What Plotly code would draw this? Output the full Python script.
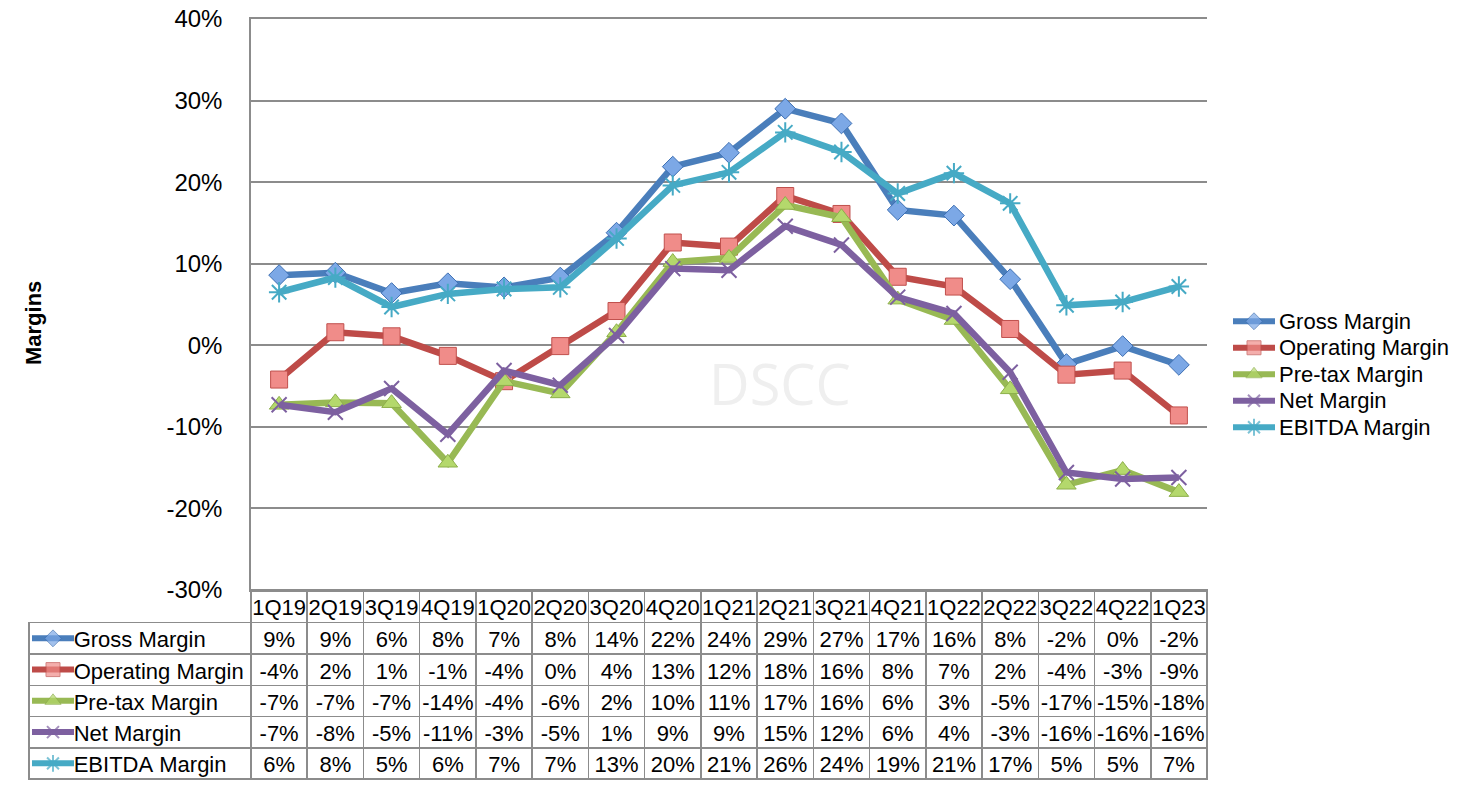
import plotly.graph_objects as go

# Quarterly margins (percent)
quarters = ["1Q19", "2Q19", "3Q19", "4Q19", "1Q20", "2Q20", "3Q20", "4Q20", "1Q21",
            "2Q21", "3Q21", "4Q21", "1Q22", "2Q22", "3Q22", "4Q22", "1Q23"]

gross_margin = [8.6, 8.9, 6.4, 7.6, 7.1, 8.3, 13.8, 21.9, 23.6,
                29.0, 27.2, 16.6, 15.9, 8.1, -2.3, -0.1, -2.4]
operating_margin = [-4.2, 1.6, 1.1, -1.3, -4.4, -0.1, 4.2, 12.6, 12.1,
                    18.3, 16.1, 8.4, 7.2, 2.0, -3.6, -3.1, -8.6]
pretax_margin = [-7.3, -7.0, -7.1, -14.4, -4.4, -5.9, 1.6, 10.2, 10.7,
                 17.2, 15.7, 5.6, 3.1, -5.4, -17.1, -15.3, -18.0]
net_margin = [-7.3, -8.2, -5.3, -10.9, -3.1, -4.9, 1.2, 9.4, 9.2,
              14.6, 12.3, 5.9, 3.9, -3.3, -15.6, -16.4, -16.2]
ebitda_margin = [6.5, 8.3, 4.7, 6.3, 6.9, 7.1, 13.1, 19.6, 21.2,
                 26.1, 23.7, 18.6, 21.1, 17.4, 4.9, 5.3, 7.2]

series_names = ["Gross Margin", "Operating Margin", "Pre-tax Margin", "Net Margin", "EBITDA Margin"]
series_values = [gross_margin, operating_margin, pretax_margin, net_margin, ebitda_margin]

y_ticks = [-30, -20, -10, 0, 10, 20, 30, 40]
y_tick_labels = ["-30%", "-20%", "-10%", "0%", "10%", "20%", "30%", "40%"]

# styles per series: line colour, marker symbol, marker fill, marker outline, size
styles = [
    dict(line="#4A7EBB", symbol="diamond", fill="#7CA8E6", edge="#3D6FB3", size=16),
    dict(line="#BE4B48", symbol="square", fill="#F08C89", edge="#C0504D", size=17),
    dict(line="#98B954", symbol="triangle-up", fill="#B4D86C", edge="#8DAF4A", size=17),
    dict(line="#7D60A0", symbol="x-thin", fill="#7D60A0", edge="#7D60A0", size=15),
    dict(line="#46AAC5", symbol="asterisk", fill="#46AAC5", edge="#46AAC5", size=17),
]

W, H = 1461, 786
FONT = "Arial, Liberation Sans, sans-serif"
GRID = "#8C8C8C"
NB = "\u00a0"

# pixel geometry of the reference
PLOT_L, PLOT_R, PLOT_T, PLOT_B = 251, 1207, 19, 590
TABLE_L, BODY_T, BODY_B = 29, 622.7, 779
HEAD_H, ROW_H = 32.7, 31.3
LEG_L, LEG_T, LEG_STEP = 1233, 308, 26.5


def marker_for(st, size=None):
    size = st["size"] if size is None else size
    if st["symbol"] in ("x-thin", "asterisk"):
        return dict(symbol=st["symbol"], size=size,
                    line=dict(color=st["edge"], width=2))
    return dict(symbol=st["symbol"], size=size, color=st["fill"],
                line=dict(color=st["edge"], width=1))


def add_key(fig, st, row, xaxis, yaxis, msize):
    """small line+marker key like the Excel legend"""
    fig.add_trace(go.Scatter(
        x=[0, 21, 42], y=[row + 0.5] * 3, mode="lines+markers", showlegend=False,
        hoverinfo="skip",
        line=dict(color=st["line"], width=6),
        marker=marker_for(st, [0, msize, 0]),
        xaxis=xaxis, yaxis=yaxis))


def table_trace():
    ncol = len(quarters)
    clear = "rgba(0,0,0,0)"
    first_col = [NB * 6 + n.replace(" ", NB) for n in series_names]
    value_cols = [[f"{round(s[i])}%" for s in series_values] for i in range(ncol)]
    return go.Table(
        domain=dict(x=[TABLE_L / W, PLOT_R / W], y=[0, (H - PLOT_B) / H]),
        columnwidth=[PLOT_L - TABLE_L] + [(PLOT_R - PLOT_L) / ncol] * ncol,
        header=dict(values=[""] + quarters, height=HEAD_H,
                    line=dict(color=[clear] + [GRID] * ncol, width=1.5),
                    fill=dict(color=clear),
                    font=dict(family=FONT, size=22, color="black"), align="center"),
        cells=dict(values=[first_col] + value_cols, height=ROW_H,
                   line=dict(color=GRID, width=1.5),
                   fill=dict(color=clear),
                   font=dict(family=FONT, size=22, color="black"),
                   align=["left"] + ["center"] * ncol),
    )


fig = go.Figure()

# the lines
for name, vals, st in zip(series_names, series_values, styles):
    fig.add_trace(go.Scatter(
        x=quarters, y=vals, name=name, mode="lines+markers",
        line=dict(color=st["line"], width=6.5),
        marker=marker_for(st),
        showlegend=False,
        xaxis="x", yaxis="y"))

# data table under the chart
fig.add_trace(table_trace())

# keys in the first table column and in the side legend
for i, st in enumerate(styles):
    add_key(fig, st, i, "x2", "y2", st["size"] - 3)
    add_key(fig, st, i, "x3", "y3", st["size"] - 3)

legend_notes = [
    dict(text=n, x=(LEG_L + 44) / W, y=(H - (LEG_T + LEG_STEP * (i + 0.5))) / H,
         xref="paper", yref="paper", xanchor="left", yanchor="middle",
         showarrow=False, font=dict(size=22))
    for i, n in enumerate(series_names)
]

fig.update_layout(
    width=W, height=H,
    margin=dict(l=0, r=0, t=0, b=0, autoexpand=False),
    paper_bgcolor="white", plot_bgcolor="white",
    font=dict(family=FONT, color="black"),
    showlegend=False,
    xaxis=dict(domain=[PLOT_L / W, PLOT_R / W], type="category", range=[-0.5, len(quarters) - 0.5],
               showticklabels=False, showgrid=False, zeroline=False, automargin=False,
               showline=True, mirror=True, linecolor=GRID, linewidth=1.5, fixedrange=True),
    yaxis=dict(domain=[(H - PLOT_B) / H, (H - PLOT_T) / H], range=[-30, 40],
               tickvals=y_ticks, ticktext=y_tick_labels, tickfont=dict(size=24),
               ticklabelstandoff=22, automargin=False,
               showgrid=True, gridcolor=GRID, gridwidth=1.5, zeroline=False,
               showline=True, linecolor=GRID, linewidth=1.5, fixedrange=True),
    xaxis2=dict(domain=[(TABLE_L + 3) / W, (TABLE_L + 45) / W], range=[0, 42],
                visible=False, fixedrange=True),
    yaxis2=dict(domain=[(H - BODY_B) / H, (H - BODY_T) / H], range=[5, 0],
                visible=False, fixedrange=True),
    xaxis3=dict(domain=[LEG_L / W, (LEG_L + 42) / W], range=[0, 42],
                visible=False, fixedrange=True),
    yaxis3=dict(domain=[(H - LEG_T - 5 * LEG_STEP) / H, (H - LEG_T) / H], range=[5, 0],
                visible=False, fixedrange=True),
    annotations=[
        dict(text="<b>Margins</b>", textangle=-90, x=33 / W, y=(H - 323) / H,
             xref="paper", yref="paper", xanchor="center", yanchor="middle",
             showarrow=False, font=dict(size=22)),
        dict(text="DSCC", x=780 / W, y=(H - 383) / H, xref="paper", yref="paper",
             xanchor="center", yanchor="middle",
             showarrow=False, font=dict(family="Open Sans", size=56, color="#EFEFEF")),
    ] + legend_notes,
)

# plotly's page has the browser's default 8px body margin; drop it
fig.write_html("out.html", config={"displayModeBar": False},
               post_script="document.body.style.margin='0';")
